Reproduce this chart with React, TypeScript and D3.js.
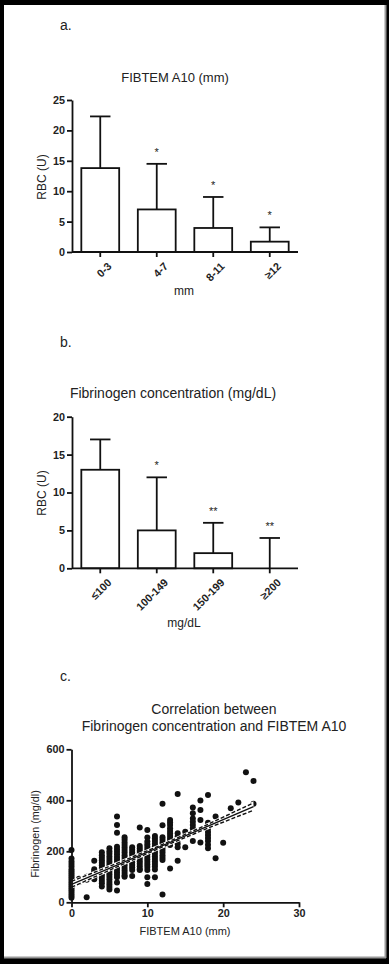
import React, { useRef, useEffect } from 'react';
import * as d3 from 'd3';

const W = 389;
const H = 964;
const FONT = "'Liberation Sans', Arial, sans-serif";

// panel a: RBC units by FIBTEM A10 group
const fibtemGroups = ['0-3', '4-7', '8-11', '≥12'];
const fibtemRbcMean = [13.8, 7.0, 3.95, 1.7];
const fibtemRbcErr = [22.3, 14.5, 9.05, 4.05];
const fibtemStars = ['', '*', '*', '*'];
const fibtemTicks = [0, 5, 10, 15, 20, 25];

// panel b: RBC units by fibrinogen group
const fibGroups = ['≤100', '100-149', '150-199', '≥200'];
const fibRbcMean = [13, 5, 2, 0];
const fibRbcErr = [17, 12, 6, 4];
const fibStars = ['', '*', '**', '**'];
const fibTicks = [0, 5, 10, 15, 20];

// panel c: fibrinogen (mg/dl) per FIBTEM A10 (mm) value
const scatterFibtem = [0, 1, 2, 3, 4, 5, 6, 7, 8, 9, 10, 11, 12, 13, 14, 15, 16, 17, 18, 19, 20, 21, 22, 23, 24];
const scatterFibrinogen = [
  [205, 172, 160, 150, 140, 130, 122, 114, 106, 98, 90, 82, 74, 66, 58, 50, 42, 34, 26, 18],
  [80, 92],
  [20, 88, 100],
  [163, 130, 122, 114, 106, 98, 90],
  [196, 185, 175, 165, 155, 145, 135, 125, 115, 105, 95, 85, 75, 62],
  [212, 200, 190, 180, 170, 160, 150, 140, 130, 120, 110, 100, 90, 80, 70, 60, 50],
  [336, 303, 273, 218, 208, 198, 188, 178, 168, 158, 148, 138, 128, 118, 108, 98, 78, 46],
  [255, 245, 235, 225, 215, 205, 195, 185, 175, 165, 155, 145, 135, 125, 115, 105, 100],
  [216, 206, 196, 186, 176, 166, 156, 146, 136, 127, 103],
  [293, 221, 211, 201, 191, 181, 171, 161, 151, 141, 131, 127],
  [284, 254, 238, 228, 218, 208, 198, 188, 178, 168, 158, 148, 138, 127, 98, 72],
  [260, 250, 240, 230, 220, 210, 200, 190, 180, 170, 160, 150, 140, 129, 98],
  [386, 302, 255, 245, 235, 225, 215, 205, 195, 185, 175, 166, 31],
  [323, 313, 303, 290, 280, 270, 260, 250, 240, 225, 133],
  [425, 271, 258, 244, 230, 216, 163],
  [277, 216],
  [372, 349, 329, 316, 303, 290, 277, 240],
  [399, 362, 323, 235],
  [421, 312, 300, 288, 276, 264, 252, 240, 226, 212],
  [336, 173],
  [234],
  [369],
  [391],
  [510],
  [476, 386],
];
const regX = [0, 6, 12, 18, 24];
const regFit = [70, 146, 222, 299, 375];
const regUpper = [82, 153, 227, 306, 390];
const regLower = [59, 139, 217, 291, 361];
const scatterXTicks = [0, 10, 20, 30];
const scatterYTicks = [0, 200, 400, 600];

type BarOpts = {
  groups: string[];
  mean: number[];
  err: number[];
  stars: string[];
  ticks: number[];
  yMax: number;
  yBottom: number;
  yTop: number;
};

function styleAxis(g: d3.Selection<SVGGElement, unknown, null, undefined>) {
  g.selectAll('path, line').attr('stroke', '#111').attr('stroke-width', 1.8);
  g.selectAll('text')
    .attr('font-family', FONT)
    .attr('font-size', 10.8)
    .attr('font-weight', 'bold')
    .attr('fill', '#222');
}

function drawBars(svg: d3.Selection<SVGSVGElement, unknown, null, undefined>, o: BarOpts) {
  const x = d3.scaleBand<string>().domain(o.groups).range([72, 298]).paddingInner(0.33).paddingOuter(0.165);
  const y = d3.scaleLinear().domain([0, o.yMax]).range([o.yBottom, o.yTop]);
  const g = svg.append('g');

  // bars
  g.selectAll('rect.bar')
    .data(o.groups)
    .enter()
    .append('rect')
    .attr('x', d => x(d)!)
    .attr('y', (d, i) => y(o.mean[i]))
    .attr('width', x.bandwidth())
    .attr('height', (d, i) => o.yBottom - y(o.mean[i]))
    .attr('fill', '#fff')
    .attr('stroke', '#111')
    .attr('stroke-width', 1.8);

  // error bars
  const cap = x.bandwidth() * 0.27;
  o.groups.forEach((d, i) => {
    const cx = x(d)! + x.bandwidth() / 2;
    g.append('line')
      .attr('x1', cx).attr('x2', cx)
      .attr('y1', y(o.mean[i])).attr('y2', y(o.err[i]))
      .attr('stroke', '#111').attr('stroke-width', 1.8);
    g.append('line')
      .attr('x1', cx - cap).attr('x2', cx + cap)
      .attr('y1', y(o.err[i])).attr('y2', y(o.err[i]))
      .attr('stroke', '#111').attr('stroke-width', 1.8);
    if (o.stars[i]) {
      g.append('text')
        .attr('x', cx).attr('y', y(o.err[i]) - 8)
        .attr('text-anchor', 'middle')
        .attr('font-family', FONT).attr('font-size', 11)
        .attr('fill', '#222')
        .text(o.stars[i]);
    }
  });

  const ya = g.append('g')
    .attr('transform', 'translate(72,0)')
    .call(d3.axisLeft(y).tickValues(o.ticks).tickSize(5).tickSizeOuter(0).tickPadding(2));
  styleAxis(ya);

  const xa = g.append('g')
    .attr('transform', `translate(0,${o.yBottom})`)
    .call(d3.axisBottom(x).tickSize(5).tickSizeOuter(0).tickPadding(4));
  xa.select('path.domain').attr('d', 'M72,0H298');
  styleAxis(xa);
  xa.selectAll('text')
    .attr('text-anchor', 'end')
    .attr('dy', '0.35em')
    .attr('transform', 'translate(3,6) rotate(-45)');
}

function addText(
  svg: d3.Selection<SVGSVGElement, unknown, null, undefined>,
  x: number, y: number, txt: string, size: number, rotate = false, anchor = 'middle'
) {
  svg.append('text')
    .attr('x', rotate ? 0 : x).attr('y', rotate ? 0 : y)
    .attr('transform', rotate ? `translate(${x},${y}) rotate(-90)` : null)
    .attr('text-anchor', anchor)
    .attr('font-family', FONT)
    .attr('font-size', size)
    .attr('fill', '#222')
    .text(txt);
}

export default function App() {
  const svgRef = useRef<SVGSVGElement>(null);

  useEffect(() => {
    if (!svgRef.current) return;
    const svg = d3.select(svgRef.current);
    svg.selectAll('*').remove();

    // frame
    svg.append('rect').attr('width', W).attr('height', H).attr('fill', '#000');
    svg.append('rect').attr('x', 4).attr('y', 5).attr('width', 382).attr('height', 953).attr('fill', '#fff');
    svg.append('line').attr('x1', 385.5).attr('x2', 385.5).attr('y1', 5).attr('y2', 958).attr('stroke', '#999').attr('stroke-width', 2);
    svg.append('line').attr('x1', 4).attr('x2', 386).attr('y1', 957.5).attr('y2', 957.5).attr('stroke', '#999').attr('stroke-width', 2);

    // panel a
    addText(svg, 60, 30, 'a.', 14, false, 'start');
    addText(svg, 175, 81.5, 'FIBTEM A10 (mm)', 13);
    drawBars(svg, {
      groups: fibtemGroups, mean: fibtemRbcMean, err: fibtemRbcErr, stars: fibtemStars,
      ticks: fibtemTicks, yMax: 25, yBottom: 252, yTop: 100,
    });
    addText(svg, 46, 177, 'RBC (U)', 12, true);
    addText(svg, 184, 295, 'mm', 12);

    // panel b
    addText(svg, 60, 346.5, 'b.', 14, false, 'start');
    addText(svg, 173, 397.5, 'Fibrinogen concentration (mg/dL)', 14);
    drawBars(svg, {
      groups: fibGroups, mean: fibRbcMean, err: fibRbcErr, stars: fibStars,
      ticks: fibTicks, yMax: 20, yBottom: 568.3, yTop: 416.7,
    });
    addText(svg, 46, 493, 'RBC (U)', 12, true);
    addText(svg, 184, 626.5, 'mg/dL', 12);

    // panel c
    addText(svg, 60, 681, 'c.', 14, false, 'start');
    addText(svg, 214, 714, 'Correlation between', 14);
    addText(svg, 214, 730.5, 'Fibrinogen concentration and FIBTEM A10', 14);

    const x = d3.scaleLinear().domain([0, 30]).range([71.5, 299]);
    const y = d3.scaleLinear().domain([0, 600]).range([902.3, 749.3]);
    const gc = svg.append('g');

    const pts: [number, number][] = [];
    scatterFibtem.forEach((fx, i) => scatterFibrinogen[i].forEach(fy => pts.push([fx, fy])));
    gc.selectAll('circle')
      .data(pts)
      .enter()
      .append('circle')
      .attr('cx', d => x(d[0]))
      .attr('cy', d => y(d[1]))
      .attr('r', 3)
      .attr('fill', '#111');

    const band = d3.area<number>()
      .x((d, i) => x(regX[i]))
      .y0((d, i) => y(regLower[i]) + 1.5)
      .y1((d, i) => y(regUpper[i]) - 1.5);
    gc.append('path').attr('d', band(regX)!).attr('fill', '#fff');

    const mkLine = (vals: number[]) =>
      d3.line<number>().x((d, i) => x(regX[i])).y((d, i) => y(vals[i]))(regX)!;
    gc.append('path').attr('d', mkLine(regFit)).attr('fill', 'none').attr('stroke', '#111').attr('stroke-width', 1.4);
    [regUpper, regLower].forEach(v =>
      gc.append('path').attr('d', mkLine(v)).attr('fill', 'none')
        .attr('stroke', '#111').attr('stroke-width', 1.4).attr('stroke-dasharray', '4,2'));

    const ya = gc.append('g')
      .attr('transform', 'translate(71.5,0)')
      .call(d3.axisLeft(y).tickValues(scatterYTicks).tickSize(5).tickSizeOuter(0).tickPadding(2));
    styleAxis(ya);
    const xa = gc.append('g')
      .attr('transform', 'translate(0,902.3)')
      .call(d3.axisBottom(x).tickValues(scatterXTicks).tickSize(5).tickSizeOuter(0).tickPadding(2));
    styleAxis(xa);

    addText(svg, 39, 834, 'Fibrinogen (mg/dl)', 10.8, true);
    addText(svg, 185, 935, 'FIBTEM A10 (mm)', 11);
  }, []);

  return (
    <svg
      ref={svgRef}
      width={W}
      height={H}
      style={{ position: 'absolute', left: 0, top: 0, display: 'block' }}
    />
  );
}
